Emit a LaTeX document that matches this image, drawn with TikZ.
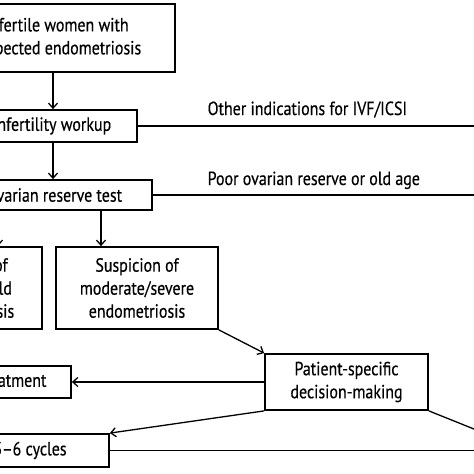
\documentclass[tikz,border=0pt]{standalone}
\usepackage{fontspec}
\setmainfont{PT Sans}[FakeStretch=0.84, FakeBold=0.4]
\usetikzlibrary{arrows.meta}
\tikzset{
  box/.style = {draw, line width = 1.8pt, align = center, inner sep = 0pt,
    font = \fontsize{19}{23}\selectfont},
  lbl/.style = {inner sep = 0pt, font = \fontsize{19}{23}\selectfont}
}
\begin{document}
\begin{tikzpicture}[x = 1pt, y = -1pt, line width = 1.3pt,
  >={Straight Barb[length = 5pt, width = 9pt]}]
	\useasboundingbox (0,0) rectangle (474,474);
	\clip (0,0) rectangle (474,474);
	\node[box, minimum width = 236pt, minimum height = 68pt] (start) at (57,38) {Infertile women with\\suspected endometriosis};
	\node[box, minimum width = 170pt, minimum height = 32pt] (workup) at (52,126) {Infertility workup};
	\node[box, minimum width = 196pt, minimum height = 30pt] (ovarian) at (54,195) {Ovarian reserve test};
	\node[box, minimum width = 152pt, minimum height = 82pt] (mild) at (-34,288) {Suspicion of\\minimal/mild\\endometriosis};
	\node[box, minimum width = 162pt, minimum height = 82pt] (severe) at (137,288) {Suspicion of\\moderate/severe\\endometriosis};
	\node[box, minimum width = 163pt, minimum height = 56pt] (decision) at (346.5,382) {Patient-specific\\decision-making};
	\node[box, minimum width = 176pt, minimum height = 32pt] (treatment) at (-17,382) {Surgical treatment};
	\node[box, minimum width = 182pt, minimum height = 33pt] (iui) at (18,450.5) {IUI 3--6 cycles};
	\node[box, minimum width = 120pt, minimum height = 50pt] (ivf) at (560,465) {IVF/ICSI};
	\node[lbl, anchor = base west] (otherlbl) at (207,115) {Other indications for IVF/ICSI};
	\node[lbl, anchor = base west] (poorlbl) at (207,185) {Poor ovarian reserve or old age};
	\coordinate (colL) at (-2,0);
	\coordinate (colR) at (101,0);
	\coordinate (colM) at (53,0);
	\draw[->] (start.south -| colM) -- (workup.north -| colM);
	\draw[->] (workup.south -| colM) -- (ovarian.north -| colM);
	\draw[->] (ovarian.south -| colL) -- (mild.north -| colL);
	\draw[->] (ovarian.south -| colR) -- (severe.north -| colR);
	\draw[->] (severe.south east) -- (decision.north west);
	\draw[->] (decision.west) -- (treatment.east);
	\draw[->] (decision.south west) -- (iui.north east);
	\draw[->] (decision.south east) -- (ivf.north west);
	\draw[->] (iui.east) -- (iui.east -| ivf.west);
	\draw[->] (workup.east) -| (ivf.north);
	\draw[->] (ovarian.east) -| ([xshift = 30pt]ivf.north);
\end{tikzpicture}
\end{document}
